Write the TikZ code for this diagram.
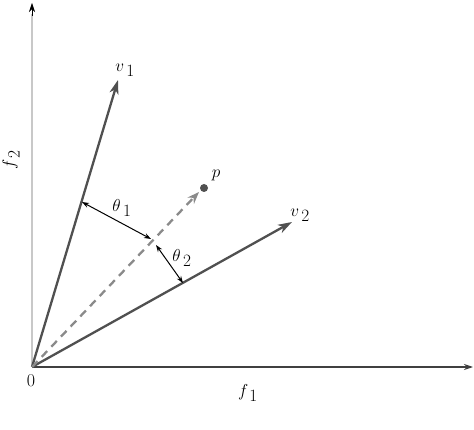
\documentclass[tikz,border=0pt]{standalone}
\usetikzlibrary{arrows.meta}
\definecolor{vecgray}{HTML}{505050}
\definecolor{dashgray}{HTML}{8A8A8A}
\definecolor{axlight}{HTML}{C8C8C8}
\definecolor{axdark}{HTML}{404040}
\begin{document}
\begin{tikzpicture}[x=1pt,y=-1pt,
  lbl/.style={font=\fontsize{18}{20}\selectfont, inner sep=0pt},
  vecline/.style={draw=vecgray, line width=2.3pt, -{Stealth[length=14pt,width=9pt,inset=4pt]}},
  dashline/.style={draw=dashgray, line width=2.3pt, dash pattern=on 8pt off 6pt, -{Stealth[length=12pt,width=9pt,inset=4pt]}},
  anglearrow/.style={draw=black, line width=1pt, {Stealth[length=7pt,width=5pt]}-{Stealth[length=7pt,width=5pt]}}]
\useasboundingbox (0,0) rectangle (474,430);
\coordinate (O) at (32,367);
\coordinate (ytop) at (32,3);
\coordinate (xend) at (473,367);
\coordinate (v1) at (118,80);
\coordinate (v2) at (292,222);
\coordinate (pd) at (199,192);
\coordinate (a1s) at (82,202);
\coordinate (a1e) at (151,239);
\coordinate (a2s) at (156,245);
\coordinate (a2e) at (183,283);
% axes
\draw[draw=axlight, line width=2pt] (O) -- (32,14);
\draw[-{Stealth[length=9pt,width=6pt]}, draw=black, line width=0.6pt] (32,16) -- (ytop);
\draw[draw=axdark, line width=1.1pt, -{Stealth[length=9pt,width=6pt]}] (O) -- (xend);
% vectors
\draw[vecline] (O) -- (v1);
\draw[vecline] (O) -- (v2);
\draw[dashline] (O) -- (pd);
\node[circle, fill=vecgray, minimum size=8pt, inner sep=0pt] (p) at (204,188) {};
% angle arrows
\draw[anglearrow] (a1s) -- (a1e);
\draw[anglearrow] (a2s) -- (a2e);
% labels
\node[lbl] (lv1) at (125,70) {$v_{\textstyle\,1}$};
\node[lbl] (lv2) at (300,215) {$v_{\textstyle\,2}$};
\node[lbl] (lp) at (216,175) {$p$};
\node[lbl] (lt1) at (122,208) {$\theta_{\textstyle\,1}$};
\node[lbl] (lt2) at (182,258) {$\theta_{\textstyle\,2}$};
\node[lbl] (l0) at (31,381) {0};
\node[lbl] (lf1) at (248,393) {$f_{\textstyle\,1}$};
\node[lbl, rotate=90] (lf2) at (11,160) {$f_{\textstyle\,2}$};
\end{tikzpicture}
\end{document}
